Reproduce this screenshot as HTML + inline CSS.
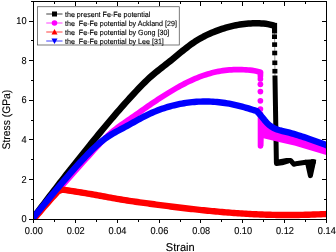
<!DOCTYPE html>
<html><head><meta charset="utf-8"><title>Stress-Strain</title>
<style>html,body{margin:0;padding:0;background:#fff;overflow:hidden}body{width:336px;height:252px;position:relative}</style></head>
<body>
<svg width="336" height="252" viewBox="0 0 336 252" style="position:absolute;left:0;top:0">
<defs><clipPath id="c"><rect x="33.50" y="1.50" width="293.50" height="218.00"/></clipPath></defs>
<rect width="336" height="252" fill="#fff"/>
<g clip-path="url(#c)" fill="none">
<path d="M33.50,217.60 L35.54,214.90 L37.57,212.21 L39.61,209.51 L41.64,206.82 L43.68,204.13 L45.71,201.44 L47.75,198.76 L49.79,196.09 L51.82,193.42 L53.86,190.76 L55.89,188.10 L57.93,185.46 L59.96,182.82 L62.00,180.20 L64.00,177.63 L66.00,175.07 L68.00,172.53 L70.00,169.99 L72.00,167.46 L74.00,164.94 L76.00,162.42 L78.00,159.92 L80.00,157.42 L82.00,154.92 L84.00,152.43 L86.00,149.95 L88.00,147.47 L90.00,145.00 L92.10,142.41 L94.20,139.82 L96.30,137.24 L98.40,134.67 L100.50,132.10 L102.60,129.55 L104.70,127.02 L106.80,124.50 L108.90,121.99 L111.00,119.50 L113.09,117.04 L115.18,114.60 L117.27,112.18 L119.36,109.78 L121.45,107.39 L123.55,105.03 L125.64,102.69 L127.73,100.36 L129.82,98.05 L131.91,95.77 L134.00,93.50 L136.19,91.15 L138.38,88.83 L140.56,86.55 L142.75,84.31 L144.94,82.13 L147.12,80.01 L149.31,77.97 L151.50,76.00 L153.56,74.22 L155.62,72.51 L157.69,70.85 L159.75,69.22 L161.81,67.62 L163.88,66.03 L165.94,64.42 L168.00,62.80 L170.08,61.13 L172.17,59.43 L174.25,57.72 L176.33,55.99 L178.42,54.27 L180.50,52.56 L182.58,50.87 L184.67,49.20 L186.75,47.57 L188.83,45.99 L190.92,44.46 L193.00,43.00 L195.08,41.61 L197.15,40.30 L199.23,39.05 L201.31,37.86 L203.38,36.73 L205.46,35.67 L207.54,34.66 L209.62,33.70 L211.69,32.79 L213.77,31.93 L215.85,31.11 L217.92,30.34 L220.00,29.60 L222.00,28.92 L224.00,28.28 L226.00,27.67 L228.00,27.10 L230.00,26.57 L232.00,26.07 L234.00,25.62 L236.00,25.20 L238.00,24.83 L240.00,24.50 L242.14,24.19 L244.29,23.94 L246.43,23.73 L248.57,23.56 L250.71,23.43 L252.86,23.35 L255.00,23.30 L257.14,23.29 L259.29,23.33 L261.43,23.42 L263.57,23.58 L265.71,23.83 L267.86,24.16 L270.00,24.60 L272.25,25.17 L274.50,25.80" stroke="#000" stroke-width="6.5" stroke-linejoin="round" stroke-linecap="butt"/>
<path d="M274.5,26 L275,78" stroke="#555" stroke-width="0.6"/>
<rect x="272.00" y="34.40" width="5" height="4.6" fill="#000"/>
<rect x="272.10" y="42.30" width="5" height="4.6" fill="#000"/>
<rect x="272.20" y="50.70" width="5" height="4.6" fill="#000"/>
<rect x="272.30" y="60.50" width="5" height="4.6" fill="#000"/>
<rect x="272.40" y="68.90" width="5" height="4.6" fill="#000"/>
<rect x="272" y="22.9" width="5.1" height="10.6" fill="#000"/>
<path d="M275.00,78.00 L276.40,162.60 L280.00,161.60 L286.70,160.40 L290.50,160.40 L293.80,164.20 L297.50,163.40 L305.80,162.30 L307.60,163.00 L310.40,175.60 L313.30,162.40 L313.40,161.80" stroke="#000" stroke-width="5" stroke-linejoin="round" stroke-linecap="square"/>
<path d="M276.6,163.4 L282,162.8 L287,161.4 M305.8,162.2 L313.4,161.8 M309.6,166 L312,166" stroke="#000" stroke-width="5" stroke-linejoin="round" stroke-linecap="round"/>
<path d="M33.50,219.00 L35.54,216.63 L37.57,214.25 L39.61,211.88 L41.64,209.51 L43.68,207.14 L45.71,204.78 L47.75,202.41 L49.79,200.06 L51.82,197.70 L53.86,195.35 L55.89,193.00 L57.93,190.66 L59.96,188.33 L62.00,186.00 L64.00,183.72 L66.00,181.45 L68.00,179.18 L70.00,176.91 L72.00,174.66 L74.00,172.40 L76.00,170.16 L78.00,167.91 L80.00,165.67 L82.00,163.43 L84.00,161.20 L86.00,158.96 L88.00,156.73 L90.00,154.50 L92.17,152.08 L94.34,149.68 L96.51,147.30 L98.68,144.95 L100.85,142.65 L103.02,140.40 L105.19,138.22 L107.36,136.12 L109.53,134.11 L111.70,132.20 L113.74,130.50 L115.78,128.89 L117.81,127.35 L119.85,125.86 L121.89,124.42 L123.92,123.00 L125.96,121.60 L128.00,120.20 L130.00,118.82 L132.00,117.42 L134.00,116.02 L136.00,114.62 L138.00,113.21 L140.00,111.80 L142.00,110.39 L144.00,108.99 L146.00,107.60 L148.00,106.22 L150.00,104.84 L152.00,103.48 L154.00,102.13 L156.00,100.80 L158.00,99.48 L160.00,98.17 L162.00,96.88 L164.00,95.60 L166.00,94.34 L168.00,93.10 L170.08,91.83 L172.17,90.58 L174.25,89.35 L176.33,88.14 L178.42,86.97 L180.50,85.82 L182.58,84.70 L184.67,83.61 L186.75,82.56 L188.83,81.53 L190.92,80.55 L193.00,79.60 L195.12,78.67 L197.25,77.79 L199.38,76.94 L201.50,76.14 L203.62,75.39 L205.75,74.68 L207.88,74.02 L210.00,73.40 L212.14,72.83 L214.29,72.31 L216.43,71.83 L218.57,71.40 L220.71,71.02 L222.86,70.69 L225.00,70.40 L227.17,70.15 L229.33,69.95 L231.50,69.80 L233.67,69.69 L235.83,69.62 L238.00,69.60 L240.00,69.62 L242.00,69.67 L244.00,69.76 L246.00,69.88 L248.00,70.03 L250.00,70.20 L252.23,70.43 L254.47,70.75 L256.70,71.20 L258.60,71.72 L260.50,72.30" stroke="#f0f" stroke-width="5.7" stroke-linejoin="round" stroke-linecap="round"/>
<circle cx="260.50" cy="74.00" r="2.85" fill="#f0f"/>
<circle cx="260.40" cy="76.00" r="2.85" fill="#f0f"/>
<circle cx="260.40" cy="78.90" r="2.85" fill="#f0f"/>
<circle cx="260.40" cy="84.30" r="2.85" fill="#f0f"/>
<circle cx="260.40" cy="91.60" r="2.85" fill="#f0f"/>
<circle cx="260.40" cy="100.80" r="2.85" fill="#f0f"/>
<circle cx="260.40" cy="109.00" r="2.85" fill="#f0f"/>
<path d="M260.50,114.00 L260.50,146.00 L261.00,134.00 L265.00,135.80 L281.70,139.70 L296.00,143.00 L327.00,152.30" stroke="#f0f" stroke-width="5.6" stroke-linejoin="round" stroke-linecap="round"/>
<path d="M258,114 L258,146 L263.3,146 L263.3,134 L272,136.2 L284,139 L296,142 L327,152 L327,145 L296,134 L285,131 L273.3,127 L267,122 L262,116 Z" fill="#f0f" stroke="none"/>
<path d="M33.50,219.40 L35.56,216.96 L37.62,214.52 L39.69,212.09 L41.75,209.67 L43.81,207.27 L45.88,204.88 L47.94,202.53 L50.00,200.20 L52.00,197.97 L54.00,195.77 L56.00,193.58 L58.00,191.40 L62.00,189.50 L64.17,189.83 L66.33,190.16 L68.50,190.49 L70.67,190.83 L72.83,191.16 L75.00,191.50 L77.10,191.83 L79.20,192.17 L81.30,192.50 L83.40,192.85 L85.50,193.19 L87.60,193.55 L89.70,193.90 L91.80,194.26 L93.90,194.63 L96.00,195.00 L98.08,195.37 L100.17,195.75 L102.25,196.13 L104.33,196.52 L106.42,196.90 L108.50,197.28 L110.58,197.66 L112.67,198.04 L114.75,198.42 L116.83,198.79 L118.92,199.15 L121.00,199.50 L123.07,199.84 L125.13,200.17 L127.20,200.50 L129.27,200.82 L131.33,201.13 L133.40,201.43 L135.47,201.73 L137.53,202.03 L139.60,202.32 L141.67,202.60 L143.73,202.89 L145.80,203.17 L147.87,203.45 L149.93,203.72 L152.00,204.00 L154.07,204.28 L156.13,204.55 L158.20,204.83 L160.27,205.10 L162.33,205.38 L164.40,205.65 L166.47,205.92 L168.53,206.19 L170.60,206.46 L172.67,206.72 L174.73,206.98 L176.80,207.24 L178.87,207.50 L180.93,207.75 L183.00,208.00 L185.07,208.25 L187.13,208.49 L189.20,208.73 L191.27,208.96 L193.33,209.19 L195.40,209.42 L197.47,209.64 L199.53,209.86 L201.60,210.08 L203.67,210.29 L205.73,210.50 L207.80,210.71 L209.87,210.91 L211.93,211.11 L214.00,211.30 L216.00,211.48 L218.00,211.67 L220.00,211.84 L222.00,212.02 L224.00,212.19 L226.00,212.35 L228.00,212.52 L230.00,212.68 L232.00,212.83 L234.00,212.98 L236.00,213.12 L238.00,213.26 L240.00,213.40 L242.00,213.53 L244.00,213.65 L246.00,213.78 L248.00,213.89 L250.00,214.00 L252.04,214.11 L254.07,214.21 L256.11,214.30 L258.15,214.39 L260.19,214.47 L262.23,214.55 L264.26,214.62 L266.30,214.69 L268.34,214.75 L270.38,214.80 L272.41,214.85 L274.45,214.89 L276.49,214.93 L278.53,214.96 L280.56,214.98 L282.60,215.00 L284.64,215.01 L286.67,215.02 L288.71,215.02 L290.75,215.01 L292.78,215.00 L294.82,214.98 L296.85,214.96 L298.89,214.93 L300.93,214.89 L302.96,214.85 L305.00,214.80 L307.00,214.75 L309.00,214.69 L311.00,214.62 L313.00,214.55 L315.00,214.48 L317.00,214.41 L319.00,214.33 L321.00,214.25 L323.00,214.17 L325.00,214.08 L327.00,214.00" stroke="#f00" stroke-width="6.4" stroke-linejoin="round" stroke-linecap="round"/>
<path d="M33.50,217.50 L35.54,215.01 L37.57,212.51 L39.61,210.02 L41.64,207.53 L43.68,205.04 L45.71,202.56 L47.75,200.09 L49.79,197.62 L51.82,195.16 L53.86,192.71 L55.89,190.26 L57.93,187.83 L59.96,185.41 L62.00,183.00 L64.00,180.65 L66.00,178.31 L68.00,175.98 L70.00,173.68 L72.00,171.39 L74.00,169.13 L76.00,166.89 L78.00,164.67 L80.00,162.48 L82.00,160.32 L84.00,158.19 L86.00,156.09 L88.00,154.03 L90.00,152.00 L92.17,149.85 L94.33,147.75 L96.50,145.72 L98.67,143.78 L100.83,141.94 L103.00,140.20 L105.00,138.70 L107.00,137.30 L109.00,135.98 L111.00,134.73 L113.00,133.53 L115.00,132.39 L117.00,131.28 L119.00,130.20 L121.00,129.14 L123.00,128.07 L125.00,127.00 L127.10,125.86 L129.20,124.69 L131.30,123.53 L133.40,122.35 L135.50,121.18 L137.60,120.02 L139.70,118.88 L141.80,117.75 L143.90,116.66 L146.00,115.60 L148.00,114.63 L150.00,113.69 L152.00,112.79 L154.00,111.93 L156.00,111.10 L158.00,110.31 L160.00,109.56 L162.00,108.84 L164.00,108.16 L166.00,107.51 L168.00,106.90 L170.00,106.32 L172.00,105.78 L174.00,105.28 L176.00,104.80 L178.00,104.36 L180.00,103.96 L182.00,103.58 L184.00,103.24 L186.00,102.93 L188.00,102.65 L190.00,102.40 L192.14,102.17 L194.29,101.97 L196.43,101.80 L198.57,101.68 L200.71,101.58 L202.86,101.52 L205.00,101.50 L207.00,101.51 L209.00,101.55 L211.00,101.63 L213.00,101.73 L215.00,101.86 L217.00,102.03 L219.00,102.23 L221.00,102.45 L223.00,102.71 L225.00,103.00 L227.14,103.34 L229.29,103.72 L231.43,104.13 L233.57,104.58 L235.71,105.05 L237.86,105.56 L240.00,106.10 L242.09,106.65 L244.18,107.23 L246.26,107.82 L248.35,108.44 L250.44,109.07 L252.52,109.71 L254.61,110.35 L256.70,111.00 L259.35,113.92 L262.00,117.00 L264.50,120.10 L267.00,123.00 L269.10,124.98 L271.20,126.55 L273.30,127.80 L275.64,128.90 L277.98,129.76 L280.32,130.45 L282.66,131.04 L285.00,131.60 L287.20,132.15 L289.40,132.72 L291.60,133.32 L293.80,133.95 L296.00,134.60 L298.00,135.21 L300.00,135.84 L302.00,136.49 L304.00,137.14 L306.00,137.82 L308.00,138.50 L310.00,139.20 L312.12,139.95 L314.25,140.71 L316.38,141.48 L318.50,142.26 L320.62,143.04 L322.75,143.82 L324.88,144.61 L327.00,145.40" stroke="#00f" stroke-width="6.4" stroke-linejoin="round" stroke-linecap="round"/>
</g>
<g stroke="#000" stroke-width="1" fill="none" shape-rendering="crispEdges">
<rect x="33.5" y="1.5" width="293.0" height="217.5"/>
<path d="M33.50,219.0 v4 M33.50,1.5 v4 M54.43,219.0 v2.5 M54.43,1.5 v2.5 M75.36,219.0 v4 M75.36,1.5 v4 M96.29,219.0 v2.5 M96.29,1.5 v2.5 M117.21,219.0 v4 M117.21,1.5 v4 M138.14,219.0 v2.5 M138.14,1.5 v2.5 M159.07,219.0 v4 M159.07,1.5 v4 M180.00,219.0 v2.5 M180.00,1.5 v2.5 M200.93,219.0 v4 M200.93,1.5 v4 M221.86,219.0 v2.5 M221.86,1.5 v2.5 M242.79,219.0 v4 M242.79,1.5 v4 M263.71,219.0 v2.5 M263.71,1.5 v2.5 M284.64,219.0 v4 M284.64,1.5 v4 M305.57,219.0 v2.5 M305.57,1.5 v2.5 M326.50,219.0 v4 M326.50,1.5 v4 M33.5,219.00 h-4.5 M326.5,219.00 h-4.5 M33.5,199.20 h-2.5 M326.5,199.20 h-2.5 M33.5,179.40 h-4.5 M326.5,179.40 h-4.5 M33.5,159.60 h-2.5 M326.5,159.60 h-2.5 M33.5,139.80 h-4.5 M326.5,139.80 h-4.5 M33.5,120.00 h-2.5 M326.5,120.00 h-2.5 M33.5,100.20 h-4.5 M326.5,100.20 h-4.5 M33.5,80.40 h-2.5 M326.5,80.40 h-2.5 M33.5,60.60 h-4.5 M326.5,60.60 h-4.5 M33.5,40.80 h-2.5 M326.5,40.80 h-2.5 M33.5,21.00 h-4.5 M326.5,21.00 h-4.5 M33.5,1.20 h-2.5 M326.5,1.20 h-2.5"/>
</g>
<g font-family="'Liberation Sans', Arial, sans-serif" fill="#000" text-rendering="geometricPrecision">
<text transform="translate(33.80,234.10) scale(0.92,1)" font-size="10" text-anchor="middle" stroke="#000" stroke-width="0.12">0.00</text>
<text transform="translate(75.66,234.10) scale(0.92,1)" font-size="10" text-anchor="middle" stroke="#000" stroke-width="0.12">0.02</text>
<text transform="translate(117.51,234.10) scale(0.92,1)" font-size="10" text-anchor="middle" stroke="#000" stroke-width="0.12">0.04</text>
<text transform="translate(159.37,234.10) scale(0.92,1)" font-size="10" text-anchor="middle" stroke="#000" stroke-width="0.12">0.06</text>
<text transform="translate(201.23,234.10) scale(0.92,1)" font-size="10" text-anchor="middle" stroke="#000" stroke-width="0.12">0.08</text>
<text transform="translate(243.09,234.10) scale(0.92,1)" font-size="10" text-anchor="middle" stroke="#000" stroke-width="0.12">0.10</text>
<text transform="translate(284.94,234.10) scale(0.92,1)" font-size="10" text-anchor="middle" stroke="#000" stroke-width="0.12">0.12</text>
<text transform="translate(326.80,234.10) scale(0.92,1)" font-size="10" text-anchor="middle" stroke="#000" stroke-width="0.12">0.14</text>
<text transform="translate(26.50,222.20) scale(0.92,1)" font-size="10" text-anchor="end" stroke="#000" stroke-width="0.12">0</text>
<text transform="translate(26.50,182.60) scale(0.92,1)" font-size="10" text-anchor="end" stroke="#000" stroke-width="0.12">2</text>
<text transform="translate(26.50,143.00) scale(0.92,1)" font-size="10" text-anchor="end" stroke="#000" stroke-width="0.12">4</text>
<text transform="translate(26.50,103.40) scale(0.92,1)" font-size="10" text-anchor="end" stroke="#000" stroke-width="0.12">6</text>
<text transform="translate(26.50,63.80) scale(0.92,1)" font-size="10" text-anchor="end" stroke="#000" stroke-width="0.12">8</text>
<text transform="translate(26.50,24.20) scale(0.92,1)" font-size="10" text-anchor="end" stroke="#000" stroke-width="0.12">10</text>
<text transform="translate(180.20,250.70) scale(0.97,1)" font-size="11.4" text-anchor="middle" stroke="#000" stroke-width="0.12">Strain</text>
<text transform="translate(9.60,119.60) rotate(-90) scale(0.94,1)" font-size="11" text-anchor="middle" stroke="#000" stroke-width="0.12">Stress (GPa)</text>
<rect x="37.5" y="6.75" width="141.75" height="38.25" fill="#fff" stroke="#444" stroke-width="0.7"/>
<path d="M46.25,14.0 H62.5" stroke="#000" stroke-width="0.75" fill="none"/>
<rect x="52.0" y="11.5" width="5" height="5" fill="#000"/>
<text transform="translate(65.00,16.60) scale(0.948,1)" font-size="7.5" text-anchor="start" stroke="#000" stroke-width="0.12" xml:space="preserve">the present Fe-Fe potential</text>
<path d="M46.25,23.0 H62.5" stroke="#f0f" stroke-width="0.75" fill="none"/>
<circle cx="54.5" cy="23.0" r="2.8" fill="#f0f"/>
<text transform="translate(65.00,25.60) scale(0.948,1)" font-size="7.5" text-anchor="start" stroke="#000" stroke-width="0.12" xml:space="preserve">the  Fe-Fe potential by Ackland [29]</text>
<path d="M46.25,32.0 H62.5" stroke="#f00" stroke-width="0.75" fill="none"/>
<path d="M51.5,34.4 L57.5,34.4 L54.5,29.0Z" fill="#f00"/>
<text transform="translate(65.00,34.60) scale(0.948,1)" font-size="7.5" text-anchor="start" stroke="#000" stroke-width="0.12" xml:space="preserve">the  Fe-Fe potential by Gong [30]</text>
<path d="M46.25,41.0 H62.5" stroke="#00f" stroke-width="0.75" fill="none"/>
<path d="M51.5,38.6 L57.5,38.6 L54.5,44.0Z" fill="#00f"/>
<text transform="translate(65.00,43.60) scale(0.948,1)" font-size="7.5" text-anchor="start" stroke="#000" stroke-width="0.12" xml:space="preserve">the  Fe-Fe potential by Lee [31]</text>
</g>
</svg>
</body></html>
